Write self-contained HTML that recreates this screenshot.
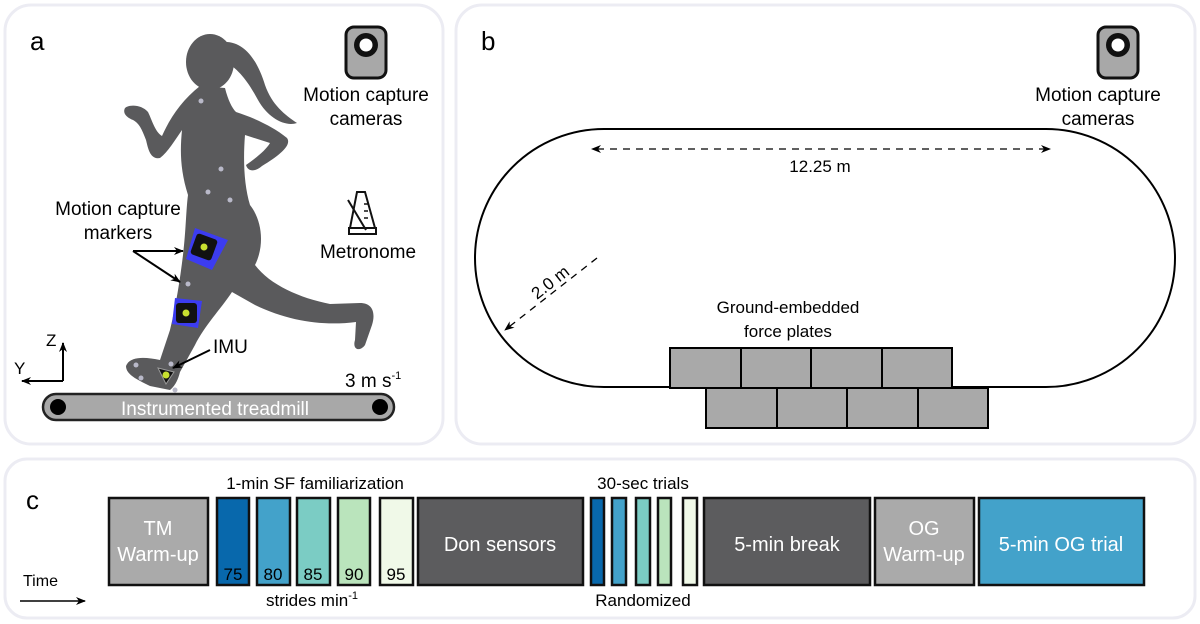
<!DOCTYPE html>
<html><head><meta charset="utf-8"><style>
html,body{margin:0;padding:0;background:#fff}
svg{display:block}
text{font-family:"Liberation Sans",sans-serif}
</style></head><body>
<svg width="1200" height="624" viewBox="0 0 1200 624" xmlns="http://www.w3.org/2000/svg">
<defs>
<marker id="ah" markerWidth="10" markerHeight="8" refX="9" refY="4" orient="auto" markerUnits="userSpaceOnUse"><path d="M0,0 L10,4 L0,8 L3,4z" fill="#000"/></marker>
</defs>
<rect x="0" y="0" width="1200" height="624" fill="#fff"/>
<rect x="5" y="5" width="438" height="439" rx="26" fill="#fff" stroke="#ececf3" stroke-width="3"/>
<rect x="456" y="5" width="739" height="439" rx="26" fill="#fff" stroke="#ececf3" stroke-width="3"/>
<rect x="5" y="459" width="1190" height="159" rx="22" fill="#fff" stroke="#ececf3" stroke-width="3"/>

<!-- panel a -->
<text x="30" y="50" font-size="26">a</text>
<rect x="346" y="27" width="40" height="51" rx="8" fill="#a8a8a8" stroke="#111" stroke-width="3"/>
<circle cx="366" cy="45" r="12" fill="#111"/><circle cx="366" cy="45" r="6.5" fill="#fff"/>
<text x="366" y="101" font-size="19" text-anchor="middle">Motion capture</text>
<text x="366" y="125" font-size="19" text-anchor="middle">cameras</text>
<!-- metronome -->
<path d="M357,192 L365,192 L375,228 L350,228 Z" fill="none" stroke="#111" stroke-width="2"/>
<rect x="349" y="228" width="27" height="6" fill="none" stroke="#111" stroke-width="2"/>
<path d="M348,200 L366,230" stroke="#111" stroke-width="2"/>
<path d="M364,204h4 M364,211h4 M364,218h4" stroke="#111" stroke-width="1.5"/>
<text x="368" y="258" font-size="19" text-anchor="middle">Metronome</text>
<!-- runner silhouette -->
<g fill="#5a5a5c">
<ellipse cx="210" cy="62" rx="24" ry="28"/>
<path d="M222,42 C245,40 258,62 265,85 C272,105 285,115 297,123 C285,127 268,118 258,100 C250,85 240,70 226,62 Z"/>
<path d="M200,86 L225,88 C228,100 232,108 236,112 C255,118 275,128 287,138 C292,145 280,155 262,166 C255,172 248,172 246,165 C256,158 266,150 270,143 L245,135 C243,160 244,185 250,205 C262,220 265,245 255,265 C270,285 300,298 330,304 L360,303 C372,303 376,312 372,325 L365,345 C360,352 352,350 355,340 L356,322 C325,326 290,322 255,305 L232,292 C220,310 205,325 195,345 L180,372 C178,380 175,386 170,390 L150,386 C138,380 126,375 126,366 C130,356 145,357 160,360 L170,330 C176,305 180,280 183,255 C186,230 186,210 188,195 C180,170 180,150 182,130 C175,140 168,152 160,158 C150,160 148,148 146,140 C142,130 140,124 133,120 C128,118 122,114 125,108 C130,104 142,105 148,112 C152,120 155,132 162,136 C170,118 182,100 200,86 Z"/>
</g>
<g fill="#b9b9c9">
<circle cx="201" cy="101" r="2.5"/><circle cx="221" cy="169" r="2.5"/><circle cx="208" cy="192" r="2.5"/><circle cx="230" cy="200" r="2.5"/><circle cx="188" cy="284" r="2.5"/><circle cx="136" cy="365" r="2.5"/><circle cx="141" cy="378" r="2.5"/><circle cx="171" cy="364" r="2.5"/><circle cx="175" cy="390" r="2.5"/>
</g>
<path d="M195,228 L228,240 L212,270 L186,259 Z" fill="#3c3cf0"/>
<rect x="193" y="236" width="22" height="22" rx="3" fill="#111" transform="rotate(20 204 247)"/>
<circle cx="204" cy="247" r="3.5" fill="#c8e030"/>
<path d="M175,298 L202,301 L198,328 L172,324 Z" fill="#3c3cf0"/>
<rect x="176" y="303" width="21" height="20" rx="3" fill="#111"/>
<circle cx="186" cy="313" r="3.5" fill="#c8e030"/>
<path d="M158,368 L174,372 L166,384 Z" fill="#111" stroke="#999"/>
<circle cx="166" cy="375" r="3.5" fill="#c8e030"/>
<text x="118" y="215" font-size="19" text-anchor="middle">Motion capture</text>
<text x="118" y="239" font-size="19" text-anchor="middle">markers</text>
<path d="M133,251 L183,251" stroke="#000" stroke-width="2" marker-end="url(#ah)"/>
<path d="M133,251 L180,282" stroke="#000" stroke-width="2" marker-end="url(#ah)"/>
<text x="213" y="353" font-size="19">IMU</text>
<path d="M210,350 L173,368" stroke="#000" stroke-width="2" marker-end="url(#ah)"/>
<path d="M63,381 L63,343" stroke="#000" stroke-width="2" marker-end="url(#ah)"/>
<path d="M63,381 L22,381" stroke="#000" stroke-width="2" marker-end="url(#ah)"/>
<text x="46" y="346" font-size="17">Z</text>
<text x="14" y="374" font-size="17">Y</text>
<text x="345" y="387" font-size="19">3 m s<tspan font-size="11" dy="-8">-1</tspan></text>
<rect x="43" y="394" width="351" height="26" rx="13" fill="#a8a8a8" stroke="#222" stroke-width="2.5"/>
<circle cx="58" cy="407" r="8" fill="#000"/><circle cx="380" cy="407" r="8" fill="#000"/>
<text x="215" y="415" font-size="19" fill="#fff" text-anchor="middle">Instrumented treadmill</text>

<!-- panel b -->
<text x="481" y="50" font-size="26">b</text>
<rect x="1098" y="27" width="40" height="51" rx="8" fill="#a8a8a8" stroke="#111" stroke-width="3"/>
<circle cx="1118" cy="45" r="12" fill="#111"/><circle cx="1118" cy="45" r="6.5" fill="#fff"/>
<text x="1098" y="101" font-size="19" text-anchor="middle">Motion capture</text>
<text x="1098" y="125" font-size="19" text-anchor="middle">cameras</text>
<path d="M604,129 L1046,129 A129,129 0 0 1 1046,387 L604,387 A129,129 0 0 1 604,129 Z" fill="none" stroke="#000" stroke-width="2"/>
<path d="M1046,149 L592,149" stroke="#000" stroke-width="1.3" stroke-dasharray="7,6" marker-end="url(#ah)"/>
<path d="M604,149 L1050,149" stroke="#000" stroke-width="1.3" stroke-dasharray="0,450" marker-end="url(#ah)"/>
<text x="820" y="172" font-size="17" text-anchor="middle">12.25 m</text>
<path d="M597,258 L505,330" stroke="#000" stroke-width="1.3" stroke-dasharray="7,6" marker-end="url(#ah)"/>
<text x="0" y="0" font-size="17" transform="translate(537,300) rotate(-38)">2.0 m</text>
<text x="788" y="313" font-size="17" text-anchor="middle">Ground-embedded</text>
<text x="788" y="337" font-size="17" text-anchor="middle">force plates</text>
<g fill="#a9a9a9" stroke="#000" stroke-width="2">
<rect x="670" y="348" width="71" height="40"/><rect x="741" y="348" width="70" height="40"/><rect x="811" y="348" width="71" height="40"/><rect x="882" y="348" width="70" height="40"/>
<rect x="706" y="388" width="71" height="40"/><rect x="777" y="388" width="70" height="40"/><rect x="847" y="388" width="71" height="40"/><rect x="918" y="388" width="70" height="40"/>
</g>

<!-- panel c -->
<text x="26" y="509" font-size="26">c</text>
<text x="23" y="586" font-size="16">Time</text>
<path d="M20,601 L85,601" stroke="#000" stroke-width="1.5" marker-end="url(#ah)"/>
<g stroke="#111" stroke-width="2.5">
<rect x="109" y="498" width="99" height="87" fill="#aaaaaa"/>
<rect x="217" y="498" width="32" height="87" fill="#0868ac"/>
<rect x="257" y="498" width="33" height="87" fill="#43a2ca"/>
<rect x="297" y="498" width="33" height="87" fill="#7bccc4"/>
<rect x="338" y="498" width="32" height="87" fill="#bae4bc"/>
<rect x="380" y="498" width="33" height="87" fill="#f0f9e8"/>
<rect x="418" y="498" width="165" height="87" fill="#5c5c5e"/>
<rect x="591" y="498" width="13" height="87" fill="#0868ac"/>
<rect x="612" y="498" width="14" height="87" fill="#43a2ca"/>
<rect x="636" y="498" width="14" height="87" fill="#7bccc4"/>
<rect x="658" y="498" width="13" height="87" fill="#bae4bc"/>
<rect x="683" y="498" width="14" height="87" fill="#f0f9e8"/>
<rect x="704" y="498" width="166" height="87" fill="#5c5c5e"/>
<rect x="875" y="498" width="99" height="87" fill="#aaaaaa"/>
<rect x="979" y="498" width="165" height="87" fill="#43a2ca"/>
</g>
<g font-size="20" fill="#fff" text-anchor="middle">
<text x="158" y="535">TM</text><text x="158" y="561">Warm-up</text>
<text x="500" y="551">Don sensors</text>
<text x="787" y="551">5-min break</text>
<text x="924" y="535">OG</text><text x="924" y="561">Warm-up</text>
<text x="1061" y="551">5-min OG trial</text>
</g>
<g font-size="17" text-anchor="middle">
<text x="233" y="580">75</text><text x="273" y="580">80</text><text x="313" y="580">85</text><text x="354" y="580">90</text><text x="396" y="580">95</text>
<text x="315" y="489">1-min SF familiarization</text>
<text x="643" y="489">30-sec trials</text>
<text x="643" y="606">Randomized</text>
<text x="312" y="606">strides min<tspan font-size="11" dy="-7">-1</tspan></text>
</g>
</svg>
</body></html>
